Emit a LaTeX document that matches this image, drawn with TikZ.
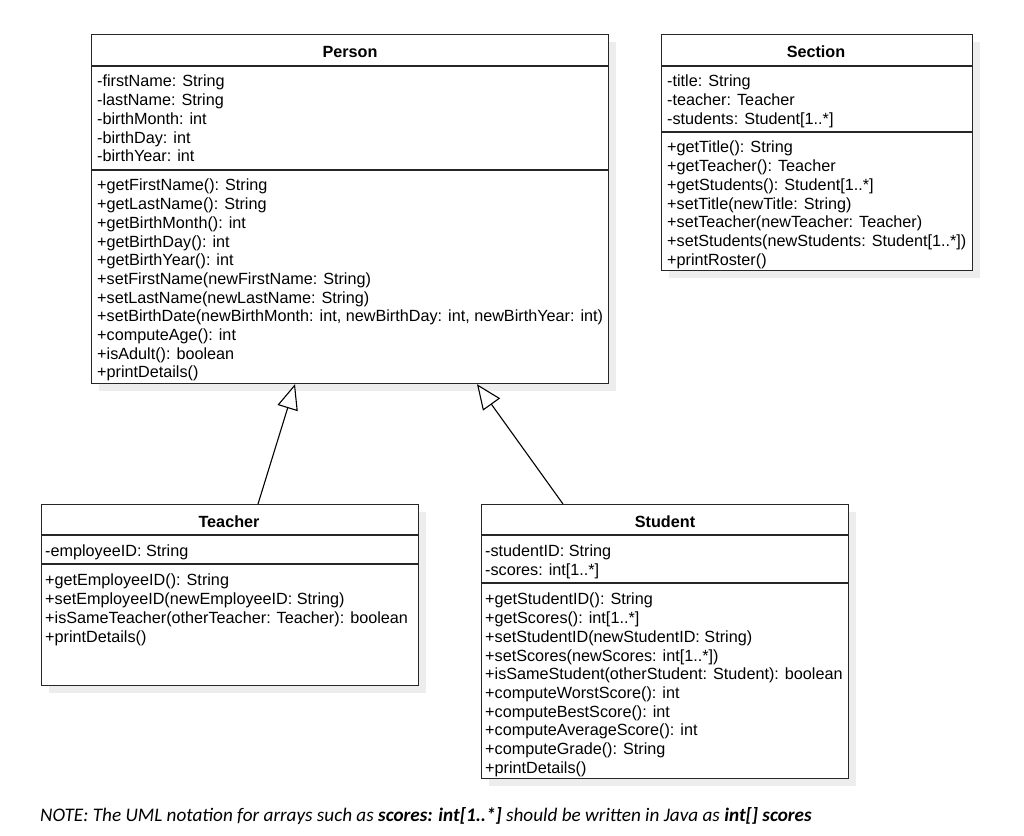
\documentclass[tikz,border=0pt]{standalone}
\usepackage{fontspec}
\setmainfont{Liberation Sans}
\newfontfamily\notefont{Carlito}
\usetikzlibrary{arrows.meta,calc}
\begin{document}
\begin{tikzpicture}[x=1pt,y=-1pt,
 box/.style={draw=black!85, line width=1.2pt, fill=white, anchor=north west, inner sep=0pt},
 shadowc/.style={fill=black!7},
 sep/.style={draw=black!85, line width=1.2pt},
 title/.style={font=\fontsize{16.2}{18.6}\selectfont\bfseries, inner sep=0pt, anchor=base},
 txt/.style={font=\fontsize{16.2}{18.7}\selectfont, inner sep=0pt, anchor=north west, align=left},
 inherit/.style={-{Triangle[open,length=25pt,width=21pt,fill=white]}, line width=1.1pt}
]
\useasboundingbox (0,0) rectangle (1024,835);
\fill[white] (0,0) rectangle (1024,835);

% shadows
\fill[shadowc] (99,42) rectangle (616,391);
\fill[shadowc] (669,42) rectangle (980,278);
\fill[shadowc] (49,512) rectangle (426,693);
\fill[shadowc] (489,512) rectangle (856,786);

% boxes
\node[box, minimum width=517pt, minimum height=349pt] (person) at (91,34) {};
\node[box, minimum width=311pt, minimum height=236pt] (section) at (661,34) {};
\node[box, minimum width=377pt, minimum height=181pt] (teacher) at (41,504) {};
\node[box, minimum width=367pt, minimum height=274pt] (student) at (481,504) {};

% separators
\draw[sep] (91,66) -- (608,66);
\draw[sep] (91,170) -- (608,170);
\draw[sep] (661,66) -- (972,66);
\draw[sep] (661,132) -- (972,132);
\draw[sep] (41,535) -- (418,535);
\draw[sep] (41,564) -- (418,564);
\draw[sep] (481,535) -- (848,535);
\draw[sep] (481,583) -- (848,583);

% titles
\node[title] (personT) at (350,57) {Person};
\node[title] (sectionT) at (816,57) {Section};
\node[title] (teacherT) at (229,527) {Teacher};
\node[title] (studentT) at (665,527) {Student};

% Person
\node[txt] (personA) at (97,75) {-firstName: String\\-lastName: String\\-birthMonth: int\\-birthDay: int\\-birthYear: int};
\node[txt] (personM) at (97,179) {+getFirstName(): String\\+getLastName(): String\\+getBirthMonth(): int\\+getBirthDay(): int\\+getBirthYear(): int\\+setFirstName(newFirstName: String)\\+setLastName(newLastName: String)\\+setBirthDate(newBirthMonth: int, newBirthDay: int, newBirthYear: int)\\+computeAge(): int\\+isAdult(): boolean\\+printDetails()};

% Section
\node[txt] (sectionA) at (667,75) {-title: String\\-teacher: Teacher\\-students: Student[1..*]};
\node[txt] (sectionM) at (667,141) {+getTitle(): String\\+getTeacher(): Teacher\\+getStudents(): Student[1..*]\\+setTitle(newTitle: String)\\+setTeacher(newTeacher: Teacher)\\+setStudents(newStudents: Student[1..*])\\+printRoster()};

% Teacher
\node[txt] (teacherA) at (45,545) {-employeeID: String};
\node[txt] (teacherM) at (45,574) {+getEmployeeID(): String\\+setEmployeeID(newEmployeeID: String)\\+isSameTeacher(otherTeacher: Teacher): boolean\\+printDetails()};

% Student
\node[txt] (studentA) at (485,545) {-studentID: String\\-scores: int[1..*]};
\node[txt] (studentM) at (485,593) {+getStudentID(): String\\+getScores(): int[1..*]\\+setStudentID(newStudentID: String)\\+setScores(newScores: int[1..*])\\+isSameStudent(otherStudent: Student): boolean\\+computeWorstScore(): int\\+computeBestScore(): int\\+computeAverageScore(): int\\+computeGrade(): String\\+printDetails()};

% inheritance
\draw[inherit] ($(teacher.north west)+(217,0)$) -- ($(person.south west)+(204,0)$);
\draw[inherit] ($(student.north west)+(82,0)$) -- ($(person.south west)+(386,0)$);

% note
\node[anchor=base west, inner sep=0pt, font=\notefont\itshape\fontsize{19.2}{22}\selectfont] (note) at (40,821) {NOTE: The UML notation for arrays such as \textbf{scores: int[1..*]} should be written in Java as \textbf{int[] scores}};
\end{tikzpicture}
\end{document}
